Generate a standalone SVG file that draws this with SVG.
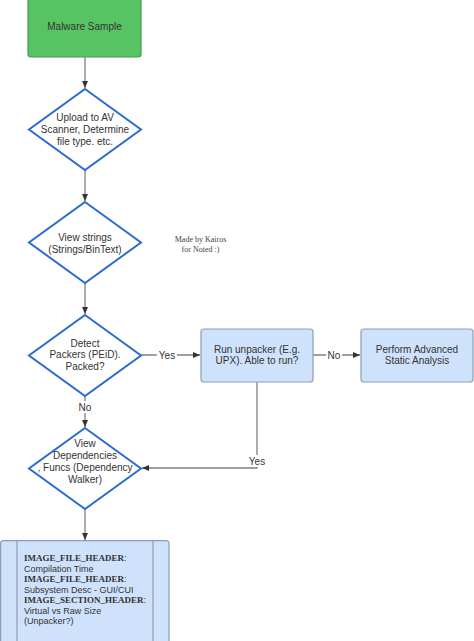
<svg xmlns="http://www.w3.org/2000/svg" width="474" height="641" viewBox="0 0 474 641">
<defs>
<style>
.t{font-family:"Liberation Sans",Arial,sans-serif;font-size:10px;fill:#333;text-anchor:middle}
.s{font-family:"Liberation Sans",Arial,sans-serif;font-size:9px;fill:#333}
.b{font-family:"Liberation Serif","Times New Roman",serif;font-size:9px;font-weight:bold;fill:#333}
.n{font-family:"Liberation Serif","Times New Roman",serif;font-size:8px;fill:#444;text-anchor:middle}
.d{fill:#fff;stroke:#2b6ccf;stroke-width:2}
.bx{fill:#cfe2fb;stroke:#8e9db3;stroke-width:1.2}
.c{fill:none;stroke:#808080;stroke-width:1.3}
.lb{fill:#fff}
</style>
<marker id="ah" markerWidth="8" markerHeight="8" refX="7" refY="4" orient="auto" markerUnits="userSpaceOnUse">
<path d="M0,1 L7,4 L0,7 Z" fill="#333"/>
</marker>
</defs>
<rect width="474" height="641" fill="#fff"/>
<g id="connectors">
<line class="c" x1="85" y1="57" x2="85" y2="88" marker-end="url(#ah)"/>
<line class="c" x1="85" y1="170" x2="85" y2="201" marker-end="url(#ah)"/>
<line class="c" x1="85" y1="283" x2="85" y2="314" marker-end="url(#ah)"/>
<line class="c" x1="141" y1="355" x2="200" y2="355" marker-end="url(#ah)"/>
<line class="c" x1="85" y1="396" x2="85" y2="427" marker-end="url(#ah)"/>
<line class="c" x1="313" y1="355" x2="360" y2="355" marker-end="url(#ah)"/>
<polyline class="c" points="257,382 257,468 142,468" marker-end="url(#ah)"/>
<line class="c" x1="85" y1="509" x2="85" y2="540" marker-end="url(#ah)"/>
<rect class="lb" x="157" y="349" width="20" height="12"/>
<text class="t" x="167" y="358.5">Yes</text>
<rect class="lb" x="326" y="349" width="16" height="12"/>
<text class="t" x="334" y="358.5">No</text>
<rect class="lb" x="77" y="401" width="16" height="12"/>
<text class="t" x="85" y="410.5">No</text>
<rect class="lb" x="247" y="455" width="20" height="12"/>
<text class="t" x="257" y="464.5">Yes</text>
</g>
<g id="malware-sample">
<rect x="28" y="-3" width="113" height="60" rx="3" fill="#58c363" stroke="#3f9f4a" stroke-width="1.2"/>
<text class="t" x="84.5" y="30">Malware Sample</text>
</g>
<g id="upload-av">
<polygon class="d" points="85,89 141,129.5 85,170 29,129.5"/>
<text class="t" x="85" y="120.5">Upload to AV</text>
<text class="t" x="85" y="132.5">Scanner, Determine</text>
<text class="t" x="85" y="144.5">file type. etc.</text>
</g>
<g id="view-strings">
<polygon class="d" points="85,202 141,242.5 85,283 29,242.5"/>
<text class="t" x="85" y="240.5">View strings</text>
<text class="t" x="85" y="252.5">(Strings/BinText)</text>
</g>
<g id="note">
<text class="n" x="200.5" y="241.5">Made by Kairos</text>
<text class="n" x="200.5" y="251.5">for Noted :)</text>
</g>
<g id="detect-packers">
<polygon class="d" points="85,315 141,355.5 85,396 29,355.5"/>
<text class="t" x="85" y="346.5">Detect</text>
<text class="t" x="85" y="358">Packers (PEiD).</text>
<text class="t" x="85" y="369.5">Packed?</text>
</g>
<g id="run-unpacker">
<rect class="bx" x="201" y="329" width="112" height="53" rx="3"/>
<text class="t" x="257" y="352.5">Run unpacker (E.g.</text>
<text class="t" x="257" y="364">UPX). Able to run?</text>
</g>
<g id="advanced-static">
<rect class="bx" x="361" y="329" width="112" height="53" rx="3"/>
<text class="t" x="417" y="352.5">Perform Advanced</text>
<text class="t" x="417" y="364">Static Analysis</text>
</g>
<g id="view-dependencies">
<polygon class="d" points="85,428 141,468.5 85,509 29,468.5"/>
<text class="t" x="85" y="446.5">View</text>
<text class="t" x="85" y="458.5">Dependencies</text>
<text class="t" x="85" y="470.5">, Funcs (Dependency</text>
<text class="t" x="85" y="482.5">Walker)</text>
</g>
<g id="pe-headers">
<rect class="bx" x="0.6" y="540.6" width="168.4" height="112" rx="3"/>
<line x1="17" y1="541" x2="17" y2="641" stroke="#8e9db3" stroke-width="1.2"/>
<line x1="153" y1="541" x2="153" y2="641" stroke="#8e9db3" stroke-width="1.2"/>
<text x="24" y="561"><tspan class="b">IMAGE_FILE_HEADER</tspan><tspan class="s">:</tspan></text>
<text class="s" x="24" y="571.5">Compilation Time</text>
<text x="24" y="582"><tspan class="b">IMAGE_FILE_HEADER</tspan><tspan class="s">:</tspan></text>
<text class="s" x="24" y="592.5">Subsystem Desc - GUI/CUI</text>
<text x="24" y="603"><tspan class="b">IMAGE_SECTION_HEADER</tspan><tspan class="s">:</tspan></text>
<text class="s" x="24" y="613.5">Virtual vs Raw Size</text>
<text class="s" x="24" y="624">(Unpacker?)</text>
</g>
</svg>
